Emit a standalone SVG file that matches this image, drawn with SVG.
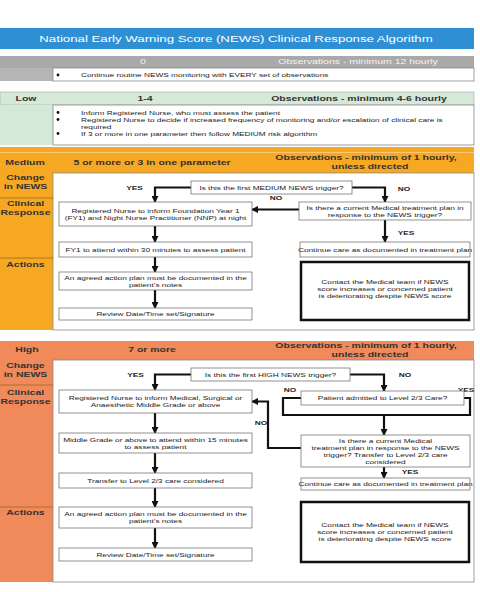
<svg xmlns="http://www.w3.org/2000/svg" width="480" height="592" viewBox="0 0 480 592">
<defs>
<marker id="ah" markerUnits="userSpaceOnUse" markerWidth="7" markerHeight="7" refX="6" refY="3.5" orient="auto">
<path d="M0,0 L7,3.5 L0,7 z" fill="#111"/>
</marker>
<style>
text{font-family:"Liberation Sans",Arial,sans-serif;dominant-baseline:central}
.t{font-size:6px;fill:#222;text-anchor:middle}
.tl{font-size:6px;fill:#222}
.h{font-size:7.6px;font-weight:bold;fill:#333;text-anchor:middle}
.g{font-size:7.6px;fill:#f4f4f4;text-anchor:middle}
.ti{font-size:9.6px;fill:#fff;text-anchor:middle}
.lab{font-size:6px;font-weight:bold;fill:#222;text-anchor:middle}
.box{fill:#fff;stroke:#777;stroke-width:0.8}
.bold{fill:#fff;stroke:#111;stroke-width:2.5}
.cell{fill:#fff;stroke:#888;stroke-width:0.8}
.ln{fill:none;stroke:#111;stroke-width:2.2}
.arr{fill:none;stroke:#111;stroke-width:2.2;marker-end:url(#ah)}
.div{stroke:#9a6a20;stroke-width:0.8}
</style>
</defs>
<rect width="480" height="592" fill="#fff"/>

<g id="title">
<rect x="0" y="28" width="474" height="21" fill="#2f8fd5"/>
<text transform="matrix(1.38,0,0,1,236,0)" x="0" y="38.5" class="ti">National Early Warning Score (NEWS) Clinical Response Algorithm</text>
</g>

<g id="row0">
<rect x="0" y="56" width="474" height="12" fill="#a9a9a9"/>
<rect x="0" y="68" width="53" height="13" fill="#b5b5b5"/>
<rect x="53" y="68" width="421" height="13" class="cell"/>
<text transform="matrix(1.38,0,0,1,143,0)" x="0" y="62" class="g">0</text>
<text transform="matrix(1.38,0,0,1,358,0)" x="0" y="62" class="g">Observations - minimum 12 hourly</text>
<circle cx="58" cy="75" r="1.4" fill="#111"/>
<text transform="matrix(1.38,0,0,1,81,0)" x="0" y="75" class="tl">Continue routine NEWS monitoring with EVERY set of observations</text>
</g>

<g id="low">
<rect x="0" y="92" width="474" height="13" fill="#d5e9d8" stroke="#aaa" stroke-width="0.6"/>
<rect x="0" y="105" width="53" height="40" fill="#d5e9d8"/>
<rect x="53" y="105" width="421" height="40" class="cell"/>
<text transform="matrix(1.38,0,0,1,26,0)" x="0" y="98.5" class="h">Low</text>
<text transform="matrix(1.38,0,0,1,145,0)" x="0" y="98.5" class="h">1-4</text>
<text transform="matrix(1.38,0,0,1,359,0)" x="0" y="98.5" class="h">Observations - minimum 4-6 hourly</text>
<circle cx="58" cy="112.5" r="1.4" fill="#111"/>
<circle cx="58" cy="119.5" r="1.4" fill="#111"/>
<circle cx="58" cy="133.5" r="1.4" fill="#111"/>
<text transform="matrix(1.38,0,0,1,81,0)" class="tl"><tspan x="0" y="112.5">Inform Registered Nurse, who must assess the patient</tspan><tspan x="0" y="119.5">Registered Nurse to decide if increased frequency of monitoring and/or escalation of clinical care is</tspan><tspan x="0" y="126.5">required</tspan><tspan x="0" y="133.5">If 3 or more in one parameter then follow MEDIUM risk algorithm</tspan></text>
</g>

<g id="medium">
<rect x="0" y="147" width="474" height="26" fill="#f7a823"/>
<line x1="0" y1="152.5" x2="474" y2="152.5" stroke="#fbd49a" stroke-width="0.7"/>
<rect x="0" y="173" width="53" height="157" fill="#f7a823"/>
<rect x="53" y="173" width="421" height="157" class="cell"/>
<line x1="0" y1="198" x2="53" y2="198" class="div"/>
<line x1="0" y1="258" x2="53" y2="258" class="div"/>
<text transform="matrix(1.38,0,0,1,25,0)" x="0" y="162.5" class="h">Medium</text>
<text transform="matrix(1.38,0,0,1,152,0)" x="0" y="162.5" class="h">5 or more or 3 in one parameter</text>
<text transform="matrix(1.38,0,0,1,366,0)" x="0" y="157.5" class="h">Observations - minimum of 1 hourly,</text>
<text transform="matrix(1.38,0,0,1,370,0)" x="0" y="166.5" class="h">unless directed</text>
<text transform="matrix(1.38,0,0,1,25.5,0)" class="h"><tspan x="0" y="177.5">Change</tspan><tspan x="0" y="186.5">in NEWS</tspan></text>
<text transform="matrix(1.38,0,0,1,25.5,0)" class="h"><tspan x="0" y="203.5">Clinical</tspan><tspan x="0" y="212.5">Response</tspan></text>
<text transform="matrix(1.38,0,0,1,25.5,0)" x="0" y="264.5" class="h">Actions</text>
</g>

<g id="high">
<rect x="0" y="341" width="474" height="19" fill="#f08a5b"/>
<rect x="0" y="360" width="53" height="222" fill="#f08a5b"/>
<rect x="53" y="360" width="421" height="222" class="cell"/>
<line x1="0" y1="385" x2="53" y2="385" class="div"/>
<line x1="0" y1="507" x2="53" y2="507" class="div"/>
<text transform="matrix(1.38,0,0,1,27,0)" x="0" y="349.5" class="h">High</text>
<text transform="matrix(1.38,0,0,1,152,0)" x="0" y="349.5" class="h">7 or more</text>
<text transform="matrix(1.38,0,0,1,366,0)" x="0" y="345.8" class="h">Observations - minimum of 1 hourly,</text>
<text transform="matrix(1.38,0,0,1,370,0)" x="0" y="354.6" class="h">unless directed</text>
<text transform="matrix(1.38,0,0,1,25.5,0)" class="h"><tspan x="0" y="365.8">Change</tspan><tspan x="0" y="374.6">in NEWS</tspan></text>
<text transform="matrix(1.38,0,0,1,25.5,0)" class="h"><tspan x="0" y="392.3">Clinical</tspan><tspan x="0" y="401.1">Response</tspan></text>
<text transform="matrix(1.38,0,0,1,25.5,0)" x="0" y="512.5" class="h">Actions</text>
</g>

<g id="connectors">
<path d="M191,187.5 H155 V202" class="arr"/>
<path d="M352,187.5 H385 V202" class="arr"/>
<path d="M299,209.5 H252" class="arr"/>
<path d="M385,220 V242" class="arr"/>
<path d="M155,226 V242" class="arr"/>
<path d="M155,257 V272" class="arr"/>
<path d="M155,290 V308" class="arr"/>

<path d="M191,374.5 H155 V390" class="arr"/>
<path d="M350,374.5 H384 V391" class="arr"/>
<path d="M301,398 H283 V415 H470 V398 H464" class="ln"/>
<path d="M384,415 V435" class="arr"/>
<path d="M301,448 H268 V401.5 H252" class="arr"/>
<path d="M384,467 V478" class="arr"/>
<path d="M155,413 V433" class="arr"/>
<path d="M155,453 V473" class="arr"/>
<path d="M155,488 V507" class="arr"/>
<path d="M155,528 V548" class="arr"/>

<text transform="matrix(1.38,0,0,1,134.5,0)" x="0" y="187.5" class="lab">YES</text>
<text transform="matrix(1.38,0,0,1,404,0)" x="0" y="189" class="lab">NO</text>
<text transform="matrix(1.38,0,0,1,276,0)" x="0" y="198" class="lab">NO</text>
<text transform="matrix(1.38,0,0,1,406,0)" x="0" y="232.5" class="lab">YES</text>
<text transform="matrix(1.38,0,0,1,135.5,0)" x="0" y="375" class="lab">YES</text>
<text transform="matrix(1.38,0,0,1,405,0)" x="0" y="374.5" class="lab">NO</text>
<text transform="matrix(1.38,0,0,1,290,0)" x="0" y="389.5" class="lab">NO</text>
<text transform="matrix(1.38,0,0,1,466,0)" x="0" y="389.5" class="lab">YES</text>
<text transform="matrix(1.38,0,0,1,261,0)" x="0" y="422.5" class="lab">NO</text>
<text transform="matrix(1.38,0,0,1,410,0)" x="0" y="471.5" class="lab">YES</text>
</g>

<g id="med_q1"><rect x="191" y="181" width="161" height="13" class="box"/><text transform="matrix(1.38,0,0,1,271.5,0)" x="0" y="187.5" class="t">Is this the first MEDIUM NEWS trigger?</text></g>
<g id="med_reg"><rect x="59" y="202" width="193" height="24" class="box"/><text transform="matrix(1.38,0,0,1,155.5,0)" class="t"><tspan x="0" y="210.5">Registered Nurse to inform Foundation Year 1</tspan><tspan x="0" y="217.5">(FY1) and Night Nurse Practitioner (NNP) at night</tspan></text></g>
<g id="med_plan"><rect x="299" y="202" width="172" height="18" class="box"/><text transform="matrix(1.38,0,0,1,385,0)" class="t"><tspan x="0" y="207.5">Is there a current Medical treatment plan in</tspan><tspan x="0" y="214.5">response to the NEWS trigger?</tspan></text></g>
<g id="med_fy1"><rect x="59" y="242" width="193" height="15" class="box"/><text transform="matrix(1.38,0,0,1,155.5,0)" x="0" y="249.5" class="t">FY1 to attend within 30 minutes to assess patient</text></g>
<g id="med_cont"><rect x="300" y="242" width="170" height="15" class="box"/><text transform="matrix(1.38,0,0,1,385,0)" x="0" y="249.5" class="t">Continue care as documented in treatment plan</text></g>
<g id="med_agreed"><rect x="59" y="272" width="193" height="18" class="box"/><text transform="matrix(1.38,0,0,1,155.5,0)" class="t"><tspan x="0" y="277.5">An agreed action plan must be documented in the</tspan><tspan x="0" y="284.5">patient’s notes</tspan></text></g>
<g id="med_review"><rect x="59" y="308" width="193" height="12" class="box"/><text transform="matrix(1.38,0,0,1,155.5,0)" x="0" y="314" class="t">Review Date/Time set/Signature</text></g>
<g id="med_contact"><rect x="301" y="262" width="168" height="58" class="bold"/><text transform="matrix(1.38,0,0,1,385,0)" class="t"><tspan x="0" y="282">Contact the Medical team if NEWS</tspan><tspan x="0" y="289">score increases or concerned patient</tspan><tspan x="0" y="296">is deteriorating despite NEWS score</tspan></text></g>

<g id="high_q1"><rect x="191" y="368" width="159" height="13" class="box"/><text transform="matrix(1.38,0,0,1,270.5,0)" x="0" y="374.5" class="t">Is this the first HIGH NEWS trigger?</text></g>
<g id="high_reg"><rect x="59" y="390" width="193" height="23" class="box"/><text transform="matrix(1.38,0,0,1,155.5,0)" class="t"><tspan x="0" y="398">Registered Nurse to inform Medical, Surgical or</tspan><tspan x="0" y="405">Anaesthetic Middle Grade or above</tspan></text></g>
<g id="high_admit"><rect x="301" y="391" width="163" height="14" class="box"/><text transform="matrix(1.38,0,0,1,382.5,0)" x="0" y="398" class="t">Patient admitted to Level 2/3 Care?</text></g>
<g id="high_mg"><rect x="59" y="433" width="193" height="20" class="box"/><text transform="matrix(1.38,0,0,1,155.5,0)" class="t"><tspan x="0" y="439.5">Middle Grade or above to attend within 15 minutes</tspan><tspan x="0" y="446.5">to assess patient</tspan></text></g>
<g id="high_plan"><rect x="301" y="435" width="169" height="32" class="box"/><text transform="matrix(1.38,0,0,1,385.5,0)" class="t"><tspan x="0" y="440.5">Is there a current Medical</tspan><tspan x="0" y="447.5">treatment plan in response to the NEWS</tspan><tspan x="0" y="454.5">trigger? Transfer to Level 2/3 care</tspan><tspan x="0" y="461.5">considered</tspan></text></g>
<g id="high_transfer"><rect x="59" y="473" width="193" height="15" class="box"/><text transform="matrix(1.38,0,0,1,155.5,0)" x="0" y="480.5" class="t">Transfer to Level 2/3 care considered</text></g>
<g id="high_cont"><rect x="301" y="478" width="169" height="12" class="box"/><text transform="matrix(1.38,0,0,1,385.5,0)" x="0" y="484" class="t">Continue care as documented in treatment plan</text></g>
<g id="high_agreed"><rect x="59" y="507" width="193" height="21" class="box"/><text transform="matrix(1.38,0,0,1,155.5,0)" class="t"><tspan x="0" y="514">An agreed action plan must be documented in the</tspan><tspan x="0" y="521">patient’s notes</tspan></text></g>
<g id="high_review"><rect x="59" y="548" width="193" height="13" class="box"/><text transform="matrix(1.38,0,0,1,155.5,0)" x="0" y="554.5" class="t">Review Date/Time set/Signature</text></g>
<g id="high_contact"><rect x="301" y="502" width="168" height="60" class="bold"/><text transform="matrix(1.38,0,0,1,385,0)" class="t"><tspan x="0" y="525">Contact the Medical team if NEWS</tspan><tspan x="0" y="532">score increases or concerned patient</tspan><tspan x="0" y="539">is deteriorating despite NEWS score</tspan></text></g>
</svg>
